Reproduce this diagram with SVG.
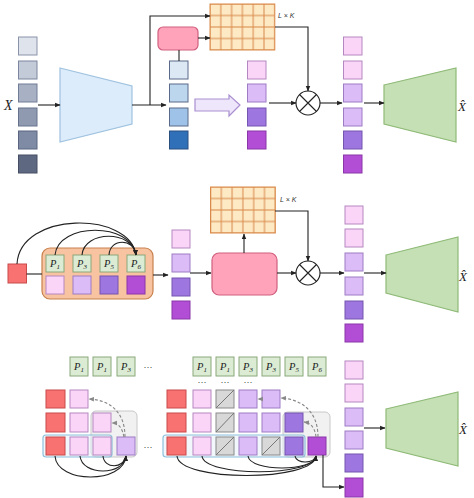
<svg xmlns="http://www.w3.org/2000/svg" width="474" height="498" viewBox="0 0 474 498">
<defs>
<marker id="ah" viewBox="0 0 10 10" refX="9" refY="5" markerWidth="5" markerHeight="5" orient="auto"><path d="M0,1 L10,5 L0,9 z" fill="#222"/></marker>
<marker id="ahg" viewBox="0 0 10 10" refX="9" refY="5" markerWidth="5" markerHeight="5" orient="auto"><path d="M0,1 L10,5 L0,9 z" fill="#888"/></marker>
<pattern id="grid" x="210" y="4" width="10.8" height="11.5" patternUnits="userSpaceOnUse"><rect width="10.8" height="11.5" fill="#fde9c4" stroke="#d98a4a" stroke-width="1"/></pattern>
<pattern id="grid2" x="210.5" y="187" width="10.8" height="11.5" patternUnits="userSpaceOnUse"><rect width="10.8" height="11.5" fill="#fde9c4" stroke="#d98a4a" stroke-width="1"/></pattern>
</defs>
<style>
.ln{fill:none;stroke:#222;stroke-width:1.1}
.ar{fill:none;stroke:#222;stroke-width:1.1;marker-end:url(#ah)}
.cv{fill:none;stroke:#222;stroke-width:1.1;marker-end:url(#ah)}
.ds{fill:none;stroke:#888;stroke-width:1.1;stroke-dasharray:3 2;marker-end:url(#ahg)}
.sq{stroke-width:1}
.c1{fill:#fbd5f8;stroke:#b487c0}
.c2{fill:#dcbcf7;stroke:#9d7cc4}
.c3{fill:#9e76e0;stroke:#7455b0}
.c4{fill:#b24ed6;stroke:#8a37a8}
.rd{fill:#f87272;stroke:#c84a4a}
.gy{fill:#d8d8d8;stroke:#8a8a8a}
.pb{fill:#dcebd4;stroke:#8aa87a}
.pink{fill:#ffa3bb;stroke:#d0607f;stroke-width:1.2}
.enc{fill:#dcecfa;stroke:#9ec2e0;stroke-width:1.2}
.dec{fill:#c5e0b4;stroke:#8fba78;stroke-width:1.2}
.t{font-family:"Liberation Serif",serif;font-style:italic;fill:#222}
.pt{font-family:"Liberation Serif",serif;font-style:italic;font-size:10.5px;fill:#222;text-anchor:middle}
.lk{font-family:"Liberation Sans",sans-serif;font-style:italic;font-size:7px;fill:#333}
.dots{font-family:"Liberation Sans",sans-serif;font-size:9px;fill:#444;text-anchor:middle}
.circ{fill:#fff;stroke:#222;stroke-width:1.1}
</style>

<!-- ===== Top section ===== -->
<g id="input-X">
<text class="t" x="4" y="110" font-size="14">X</text>
<rect class="sq" x="18.5" y="37" width="18.5" height="18" fill="#dfe3ec" stroke="#8a93a8"/>
<rect class="sq" x="18.5" y="61" width="18.5" height="18" fill="#c3cad8" stroke="#7c86a0"/>
<rect class="sq" x="18.5" y="84" width="18.5" height="18" fill="#a8b1c4" stroke="#717c96"/>
<rect class="sq" x="18.5" y="108" width="18.5" height="18" fill="#8f9ab1" stroke="#66728c"/>
<rect class="sq" x="18.5" y="131" width="18.5" height="18" fill="#7f8ba4" stroke="#5a6680"/>
<rect class="sq" x="18.5" y="155" width="18.5" height="18" fill="#5e6981" stroke="#454e63"/>
</g>
<g id="encoder">
<polygon class="enc" points="60,68 132,86 132,124 60,142"/>
</g>
<g id="pink-top">
<rect class="pink" x="158" y="27" width="40" height="23" rx="5"/>
</g>
<g id="latent-top">
<rect class="sq" x="169.5" y="61" width="18.5" height="18" fill="#dde8f5" stroke="#5a6a8a"/>
<rect class="sq" x="169.5" y="84" width="18.5" height="18" fill="#bcd6ee" stroke="#5a6a8a"/>
<rect class="sq" x="169.5" y="108" width="18.5" height="18" fill="#9fc3e8" stroke="#5a6a8a"/>
<rect class="sq" x="169.5" y="131" width="18.5" height="18" fill="#2f70b8" stroke="#2a4f80"/>
</g>
<g id="block-arrow">
<polygon points="195,99 229,99 229,95 240,105 229,116 229,111 195,111" fill="#eee6fb" stroke="#a98fd0" stroke-width="1.2"/>
</g>
<g id="grid-top">
<rect x="210" y="4" width="64.8" height="46" fill="url(#grid)" stroke="#d98a4a"/>
<text class="lk" x="278" y="18">L × K</text>
</g>
<g id="purple-top">
<rect class="sq c1" x="247.5" y="61" width="18.5" height="18"/>
<rect class="sq c2" x="247.5" y="84" width="18.5" height="18"/>
<rect class="sq c3" x="247.5" y="108" width="18.5" height="18"/>
<rect class="sq c4" x="247.5" y="131" width="18.5" height="18"/>
</g>
<g id="mult-top">
<circle class="circ" cx="308" cy="103" r="12"/>
<path class="ln" d="M299.5,94.5 L316.5,111.5 M316.5,94.5 L299.5,111.5"/>
</g>
<g id="out-top">
<rect class="sq c1" x="343.5" y="37" width="18.5" height="18"/>
<rect class="sq c1" x="343.5" y="61" width="18.5" height="18"/>
<rect class="sq c2" x="343.5" y="84" width="18.5" height="18"/>
<rect class="sq c2" x="343.5" y="108" width="18.5" height="18"/>
<rect class="sq c3" x="343.5" y="131" width="18.5" height="18"/>
<rect class="sq c4" x="343.5" y="155" width="18.5" height="18"/>
</g>
<g id="decoder-top">
<polygon class="dec" points="384,85 456,68 456,142 384,124"/>
<text class="t" x="458" y="111" font-size="13">X̂</text>
</g>

<!-- ===== Middle section ===== -->
<g id="red-mid">
<rect class="sq rd" x="8" y="264" width="18.5" height="19"/>
</g>
<g id="orange-box">
<rect x="42" y="248" width="111" height="51" rx="8" fill="#f7c3a0" stroke="#c7814f" stroke-width="1.2"/>
<rect class="sq pb" x="46" y="255" width="18" height="17"/><text class="pt" x="55" y="267">P<tspan font-size="7" dy="2">1</tspan></text>
<rect class="sq pb" x="73" y="255" width="18" height="17"/><text class="pt" x="82" y="267">P<tspan font-size="7" dy="2">3</tspan></text>
<rect class="sq pb" x="100" y="255" width="18" height="17"/><text class="pt" x="109" y="267">P<tspan font-size="7" dy="2">5</tspan></text>
<rect class="sq pb" x="127" y="255" width="18" height="17"/><text class="pt" x="136" y="267">P<tspan font-size="7" dy="2">6</tspan></text>
<rect class="sq c1" x="46" y="276" width="18" height="18"/>
<rect class="sq c2" x="73" y="276" width="18" height="18"/>
<rect class="sq c3" x="100" y="276" width="18" height="18"/>
<rect class="sq c4" x="127" y="276" width="18" height="18"/>
</g>
<g id="purple-mid">
<rect class="sq c1" x="172" y="230" width="18" height="18"/>
<rect class="sq c2" x="172" y="254" width="18" height="18"/>
<rect class="sq c3" x="172" y="278" width="18" height="18"/>
<rect class="sq c4" x="172" y="301" width="18" height="18"/>
</g>
<g id="pink-mid">
<rect class="pink" x="212" y="253" width="65" height="42" rx="7"/>
</g>
<g id="grid-mid">
<rect x="210.5" y="187" width="64.8" height="46" fill="url(#grid2)" stroke="#d98a4a"/>
<text class="lk" x="280" y="202">L × K</text>
</g>
<g id="mult-mid">
<circle class="circ" cx="308" cy="273" r="12"/>
<path class="ln" d="M299.5,264.5 L316.5,281.5 M316.5,264.5 L299.5,281.5"/>
</g>
<g id="out-mid">
<rect class="sq c1" x="345" y="206" width="18" height="18"/>
<rect class="sq c1" x="345" y="229" width="18" height="18"/>
<rect class="sq c2" x="345" y="253" width="18" height="18"/>
<rect class="sq c2" x="345" y="277" width="18" height="18"/>
<rect class="sq c3" x="345" y="301" width="18" height="18"/>
<rect class="sq c4" x="345" y="324" width="18" height="18"/>
</g>
<g id="decoder-mid">
<polygon class="dec" points="386,255 458,237 458,312 386,293"/>
<text class="t" x="459" y="281" font-size="13">X̂</text>
</g>

<!-- ===== Bottom section ===== -->
<g id="bottom-left">
<rect x="91" y="411" width="46" height="46" rx="5" fill="#f1f1f1" stroke="#c8c8c8"/>
<rect x="43" y="435" width="69" height="22" rx="3" fill="#e3f0f8" fill-opacity="0.5" stroke="#8ec0dc" stroke-width="1.2"/>
<rect class="sq pb" x="70" y="357" width="18" height="19"/><text class="pt" x="79" y="370">P<tspan font-size="7" dy="2">1</tspan></text>
<rect class="sq pb" x="93" y="357" width="18" height="19"/><text class="pt" x="102" y="370">P<tspan font-size="7" dy="2">1</tspan></text>
<rect class="sq pb" x="117" y="357" width="18" height="19"/><text class="pt" x="126" y="370">P<tspan font-size="7" dy="2">3</tspan></text>
<text class="dots" x="148" y="370">···</text>
<rect class="sq rd" x="46" y="390" width="19" height="18"/>
<rect class="sq c1" x="70" y="390" width="18" height="18"/>
<rect class="sq rd" x="46" y="413" width="19" height="19"/>
<rect class="sq c1" x="70" y="413" width="18" height="19"/>
<rect class="sq c1" x="93" y="413" width="18" height="19"/>
<rect class="sq rd" x="46" y="437" width="19" height="18"/>
<rect class="sq c1" x="70" y="437" width="18" height="18"/>
<rect class="sq c1" x="93" y="437" width="18" height="18"/>
<rect class="sq c2" x="117" y="437" width="18" height="18"/>
<text class="dots" x="148" y="450">···</text>
</g>
<g id="bottom-right">
<rect x="283" y="412" width="47" height="45" rx="5" fill="#f1f1f1" stroke="#c8c8c8"/>
<rect x="163" y="435" width="142" height="22" rx="3" fill="#e3f0f8" fill-opacity="0.5" stroke="#8ec0dc" stroke-width="1.2"/>
<rect class="sq pb" x="193" y="357" width="18" height="19"/><text class="pt" x="202" y="370">P<tspan font-size="7" dy="2">1</tspan></text>
<rect class="sq pb" x="216" y="357" width="18" height="19"/><text class="pt" x="225" y="370">P<tspan font-size="7" dy="2">1</tspan></text>
<rect class="sq pb" x="239" y="357" width="18" height="19"/><text class="pt" x="248" y="370">P<tspan font-size="7" dy="2">3</tspan></text>
<rect class="sq pb" x="262" y="357" width="18" height="19"/><text class="pt" x="271" y="370">P<tspan font-size="7" dy="2">3</tspan></text>
<rect class="sq pb" x="285" y="357" width="18" height="19"/><text class="pt" x="294" y="370">P<tspan font-size="7" dy="2">5</tspan></text>
<rect class="sq pb" x="308" y="357" width="18" height="19"/><text class="pt" x="317" y="370">P<tspan font-size="7" dy="2">6</tspan></text>
<text class="dots" x="202" y="385" font-size="7">···</text>
<text class="dots" x="225" y="385" font-size="7">···</text>
<text class="dots" x="248" y="385" font-size="7">···</text>
<rect class="sq rd" x="167" y="390" width="19" height="18"/>
<rect class="sq c1" x="193" y="390" width="18" height="18"/>
<rect class="sq gy" x="216" y="390" width="18" height="18"/><line x1="216" y1="408" x2="234" y2="390" stroke="#777"/>
<rect class="sq c2" x="239" y="390" width="18" height="18"/>
<rect class="sq c2" x="262" y="390" width="18" height="18"/>
<rect class="sq rd" x="167" y="413" width="19" height="19"/>
<rect class="sq c1" x="193" y="413" width="18" height="19"/>
<rect class="sq gy" x="216" y="413" width="18" height="19"/><line x1="216" y1="432" x2="234" y2="413" stroke="#777"/>
<rect class="sq c2" x="239" y="413" width="18" height="19"/>
<rect class="sq c2" x="262" y="413" width="18" height="19"/>
<rect class="sq c3" x="285" y="413" width="18" height="19"/>
<rect class="sq rd" x="167" y="437" width="19" height="18"/>
<rect class="sq c1" x="193" y="437" width="18" height="18"/>
<rect class="sq gy" x="216" y="437" width="18" height="18"/><line x1="216" y1="455" x2="234" y2="437" stroke="#777"/>
<rect class="sq c2" x="239" y="437" width="18" height="18"/>
<rect class="sq gy" x="262" y="437" width="18" height="18"/><line x1="262" y1="455" x2="280" y2="437" stroke="#777"/>
<rect class="sq c3" x="285" y="437" width="18" height="18"/>
<rect class="sq c4" x="308" y="437" width="18" height="18"/>
</g>
<g id="out-bottom">
<rect class="sq c1" x="345" y="361" width="18" height="18"/>
<rect class="sq c1" x="345" y="384" width="18" height="18"/>
<rect class="sq c2" x="345" y="408" width="18" height="18"/>
<rect class="sq c2" x="345" y="431" width="18" height="18"/>
<rect class="sq c3" x="345" y="454" width="18" height="18"/>
<rect class="sq c4" x="345" y="478" width="18" height="19"/>
</g>
<g id="decoder-bottom">
<polygon class="dec" points="386,409 458,392 458,466 386,448"/>
<text class="t" x="459" y="434" font-size="13">X̂</text>
</g>

<!-- ===== Connectors ===== -->
<g id="connectors">
<line class="ar" x1="38" y1="105" x2="60" y2="105"/>
<line class="ar" x1="132" y1="105" x2="166" y2="105"/>
<path class="ar" d="M150,105 L150,16 L210,16"/>
<line class="ar" x1="198" y1="38" x2="210" y2="38"/>
<line class="ln" x1="179" y1="50" x2="179" y2="61"/>
<path class="ar" d="M275,27 L308,27 L308,91"/>
<line class="ar" x1="269" y1="103" x2="296" y2="103"/>
<line class="ar" x1="320" y1="103" x2="342" y2="103"/>
<line class="ar" x1="364" y1="103" x2="384" y2="103"/>

<line class="ln" x1="26.5" y1="274" x2="42" y2="274"/>
<path class="cv" d="M17,264 C20,211 130,211 136,255"/>
<path class="cv" d="M55,255 C58,222 132,222 136,255"/>
<path class="cv" d="M82,255 C84,230 133,230 136,255"/>
<path class="cv" d="M109,255 C110,238 134,238 136,255"/>
<line class="ar" x1="153" y1="275" x2="168" y2="275"/>
<line class="ar" x1="190" y1="273" x2="211" y2="273"/>
<line class="ar" x1="244" y1="253" x2="244" y2="234"/>
<path class="ar" d="M275,211 L308,211 L308,261"/>
<line class="ar" x1="277" y1="273" x2="296" y2="273"/>
<line class="ar" x1="320" y1="273" x2="344" y2="273"/>
<line class="ar" x1="364" y1="273" x2="386" y2="273"/>

<path class="ds" d="M125,437 C125,412 110,400 89,399"/>
<path class="ds" d="M124,437 C122,428 119,423 112,423"/>
<path class="cv" d="M55,456 C57,484 124,484 126,456"/>
<path class="cv" d="M80,456 C82,476 124,476 126,456"/>
<path class="cv" d="M103,456 C104,469 124,469 126,456"/>

<path class="ds" d="M318,437 C318,410 300,399 281,398"/>
<path class="ds" d="M316,437 C315,428 311,423 304,422"/>
<line class="ds" x1="262" y1="399" x2="258" y2="399"/>
<path class="cv" d="M177,456 C179,482 314,482 316,456"/>
<path class="cv" d="M202,456 C204,477 314,477 316,456"/>
<path class="cv" d="M248,456 C250,472 314,472 316,456"/>
<path class="cv" d="M295,456 C296,464 314,464 316,456"/>
<path class="ar" d="M323,455 L323,487 L344,487"/>
<line class="ar" x1="364" y1="428" x2="385" y2="428"/>
</g>
</svg>
